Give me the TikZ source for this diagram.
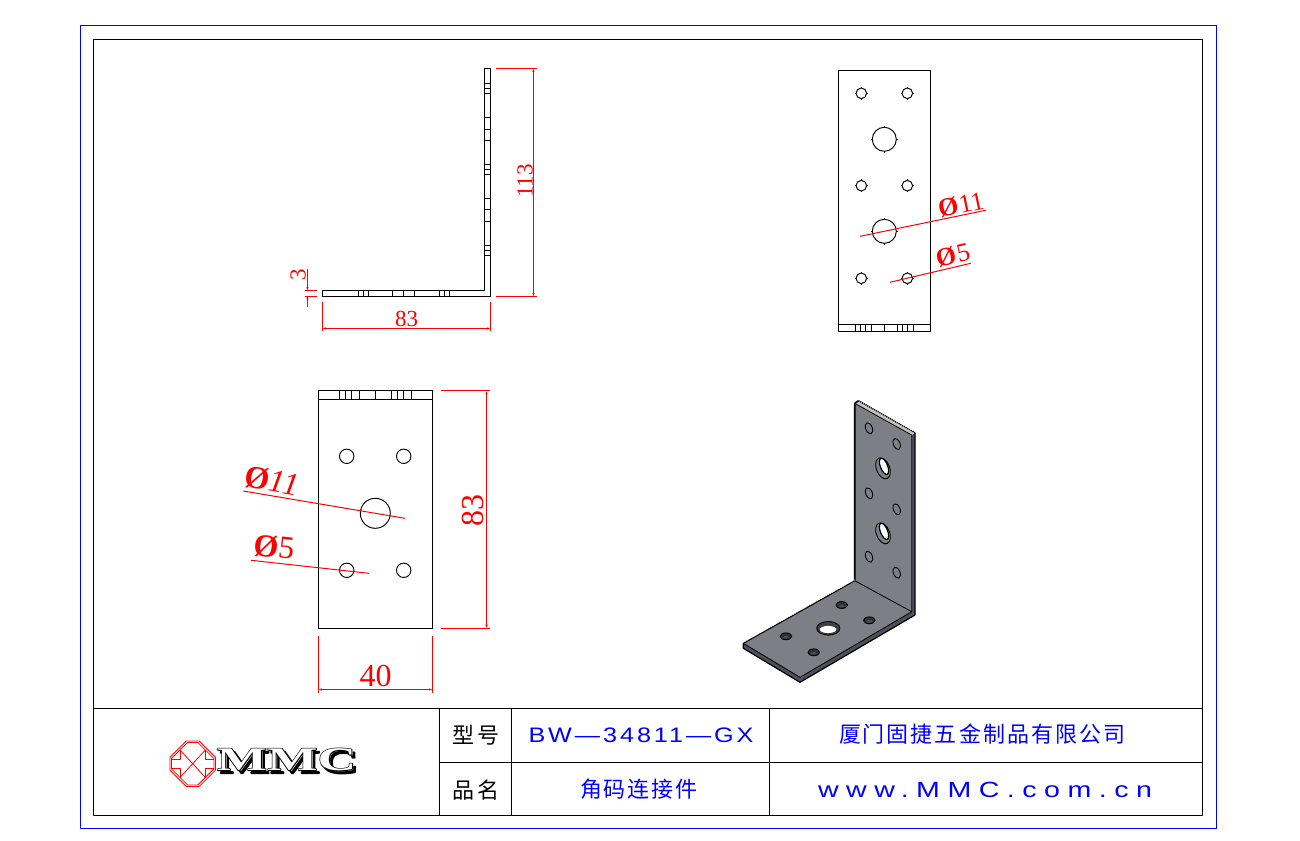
\documentclass[tikz,border=0pt]{standalone}
\usepackage{fontspec}
\setmainfont{Liberation Serif}
\setsansfont{Liberation Sans}
\newfontfamily\cjk{Noto Sans CJK SC}
\newfontfamily\logofont[FakeStretch=1.62]{Liberation Serif Bold}
\newfontfamily\logobold[FakeStretch=1.62,FakeBold=5]{Liberation Serif Bold}
\newfontfamily\titlefont[FakeStretch=1.2,LetterSpace=14]{Liberation Sans}
\newfontfamily\webfont[FakeStretch=1.3,LetterSpace=34]{Liberation Sans}
\usetikzlibrary{calc,arrows.meta}
\definecolor{platefill}{RGB}{126,126,134}
\definecolor{sidefill}{RGB}{78,78,92}
\newcommand{\fsz}[1]{\fontsize{#1}{#1}\selectfont}
\begin{document}
\begin{tikzpicture}[x=1pt,y=-1pt,line join=round,line cap=butt,
  part/.style={black,line width=1.1pt},
  tick/.style={black,line width=1pt},
  dimline/.style={red,line width=1pt},
  dimarrow/.style={dimline,{Stealth[length=3pt,width=2.4pt]}-{Stealth[length=3pt,width=2.4pt]}},
  dimtext/.style={red,inner sep=0pt},
  grid/.style={black,line width=1pt},
  hole/.style={black,line width=0.95pt},
  skewhole/.style={black,line width=0.9pt,fill=platefill},
  logoline/.style={red,line width=0.8pt}]
\useasboundingbox (0,0) rectangle (1300,840);
\draw[blue,line width=1pt] (80.5,25.5) rectangle (1216.5,828.5);
\draw[grid] (93.5,39.5) rectangle (1202.5,815.5);
\draw[grid] (93.5,708.5)--(1202.5,708.5) (439.5,762.5)--(1202.5,762.5);
\draw[grid] (439.5,708.5)--(439.5,815.5) (511.5,708.5)--(511.5,815.5) (769.5,708.5)--(769.5,815.5);
\coordinate (S1) at (322.5,290.5);
\coordinate (S2) at (484.5,290.5);
\coordinate (S3) at (484.5,68.5);
\coordinate (S4) at (490.5,68.5);
\coordinate (S5) at (490.5,296.5);
\coordinate (S6) at (322.5,296.5);
\draw[part] (S1)--(S2)--(S3)--(S4)--(S5)--(S6)--cycle;
\foreach \y in {83.5,88.5,93.5,117.5,129.5,140.5,164.5,169.5,174.5,198.5,209.5,221.5,245.5,250.5,255.5}{\draw[tick] (484.5,\y)--(490.5,\y);}
\foreach \x in {358.5,363.5,368.5,392.5,403.5,414.5,439.5,444.5,449.5}{\draw[tick] (\x,290.5)--(\x,296.5);}
\draw[dimline] (496,68.5)--(537,68.5) (496,296.5)--(537,296.5);
\draw[dimarrow] (533.5,69)--(533.5,296);
\node[dimtext,rotate=90] (dim113) at (525,181) {\fsz{23}113};
\draw[dimline] (305,290.5)--(316.7,290.5) (305,296.5)--(316.7,296.5);
\draw[dimline,-{Stealth[length=3pt,width=2.4pt]}] (307.5,269)--(307.5,290);
\draw[dimline,-{Stealth[length=3pt,width=2.4pt]}] (307.5,306.7)--(307.5,296.6);
\node[dimtext,rotate=90] (dim3) at (298,275) {\fsz{23}3};
\draw[dimline] (322.5,302)--(322.5,330.7) (490.5,302)--(490.5,330.7);
\draw[dimarrow] (323,328.5)--(490,328.5);
\node[dimtext] (dim83a) at (406.7,319) {\fsz{23}83};
\draw[part] (838.5,70.5) rectangle (930.5,331.5) (838.5,324.5)--(930.5,324.5);
\foreach \x in {855.5,860.5,865.5,871.5,884.5,897.5,902.5,907.5,913.5}{\draw[tick] (\x,324.5)--(\x,331.5);}
\foreach \x/\y in {861.3/93.3,907.3/93.3,861.3/185.7,907.3/185.7,861.3/278.3,907.3/278.3}{
  \draw[hole] (\x,\y) circle (5.3pt);
  \foreach \a in {0,90,180,270}{\draw[hole] (\x,\y)++(\a:5.3pt)--++(\a:1.2pt);}
}
\foreach \x/\y in {884.3/139.3,884.3/231.3}{
  \draw[hole] (\x,\y) circle (12pt);
  \foreach \a in {0,90,180,270}{\draw[hole] (\x,\y)++(\a:12pt)--++(\a:1.2pt);}
}
\draw[dimline] (860,236.3)--(985.7,210.3) (890,282.3)--(970.7,263.3);
\node[dimtext,rotate=11.7] (dia11a) at (961,205) {\fsz{26}{\bfseries Ø}\kern1pt 11};
\node[dimtext,rotate=13] (dia5a) at (953,255.5) {\fsz{26}{\bfseries Ø}\kern1pt 5};
\draw[part] (318.5,390.5) rectangle (432.5,628.5) (318.5,399.5)--(432.5,399.5);
\foreach \x in {339.5,345.5,351.5,359.5,375.5,391.5,397.5,403.5,411.5}{\draw[tick] (\x,390.5)--(\x,399.5);}
\foreach \x/\y in {346.7/456.3,403.7/456.3,346.7/570.3,403.7/570.3}{\draw[hole] (\x,\y) circle (7.2pt);}
\draw[hole] (375.3,513.3) circle (15pt);
\draw[dimline] (243.3,491)--(405,518.3) (251,560.3)--(369,573.3);
\node[dimtext,rotate=-9.6] (dia11b) at (272,481) {\fsz{32}{\bfseries Ø}{\itshape 11}};
\node[dimtext,rotate=-6.3] (dia5b) at (274,547) {\fsz{32}{\bfseries Ø}5};
\draw[dimline] (441,390.5)--(490,390.5) (441,628.5)--(490,628.5);
\draw[dimarrow] (486.5,391.5)--(486.5,627.5);
\node[dimtext,rotate=90] (dim83b) at (473.5,510) {\fsz{32}83};
\draw[dimline] (318.5,636)--(318.5,692.7) (432.5,636)--(432.5,692.7);
\draw[dimarrow] (319,689.5)--(432,689.5);
\node[dimtext] (dim40) at (375.7,676.5) {\fsz{32}40};
\coordinate (A) at (854.7,403.3);
\coordinate (B) at (858.5,400.7);
\coordinate (C) at (915,432.7);
\coordinate (D) at (911.7,435);
\coordinate (E) at (911.7,611.7);
\coordinate (F) at (854.7,580.7);
\coordinate (G) at (743.3,643.3);
\coordinate (H) at (800,677.3);
\coordinate (I) at (800,682.3);
\coordinate (J) at (743.3,648.3);
\coordinate (K) at (915,615);
\fill[platefill] (A)--(D)--(E)--(F)--cycle;
\fill[platefill] (F)--(G)--(H)--(E)--cycle;
\fill[sidefill] (D)--(C)--(K)--(E)--cycle;
\fill[sidefill] (E)--(K)--(I)--(H)--cycle;
\fill[sidefill] (G)--(J)--(I)--(H)--cycle;
\fill[platefill!45!white] (A)--(B)--(C)--(D)--cycle;
\draw[black,line width=0.8pt] (A)--(D)--(E)--(F) (F)--(E)--(H)--(G);
\draw[black,line width=1.6pt] (A)--(F) (A)--(B);
\draw[black,line width=1.3pt,dash pattern=on 1.2pt off 0.8pt] (B)--(C);
\draw[black,line width=1.2pt] (C)--(K)--(I)--(J)--(G);
\draw[black,line width=1.2pt] (F)--(G);
\draw[white,line width=0.7pt,dash pattern=on 1pt off 1.5pt] ($(F)+(0,-1)$)--($(G)+(0,-1)$);
\foreach \x/\y in {869/428.3,896.7/444,869/493.3,896.7/509.3,869/556.7,896.7/572.7}{
  \draw[skewhole] (\x,\y) ellipse [x radius=3.3pt,y radius=5.8pt,rotate=22];
}
\foreach \x/\y in {883/468.3,883/533.3}{
  \draw[skewhole] (\x,\y) ellipse [x radius=6.6pt,y radius=11pt,rotate=22];
  \draw[black,line width=1.2pt,fill=white] (\x+1,\y-2) ellipse [x radius=3.6pt,y radius=8.6pt,rotate=22];
}
\foreach \x/\y in {841.7/605,869.3/620.3,786/636.3,813.7/652.3}{
  \draw[black,line width=0.9pt,fill=black!80] (\x,\y) ellipse [x radius=5.8pt,y radius=3.4pt];
  \fill[platefill!60!black] (\x,\y+1) ellipse [x radius=3pt,y radius=1.3pt];
}
\draw[black,line width=0.9pt,fill=platefill!50!black] (828.3,628.3) ellipse [x radius=11.6pt,y radius=6.8pt];
\fill[white] (828,629.5) ellipse [x radius=8.2pt,y radius=3.6pt];
\coordinate (L) at (192.7,763.7);
\foreach \r/\f in {22.8/6.4,21.2/5.2}{
  \draw[logoline] ($(L)+(-\f,-\r)$)--($(L)+(\f,-\r)$)--($(L)+(\r,-\f)$)--($(L)+(\r,\f)$)--($(L)+(\f,\r)$)--($(L)+(-\f,\r)$)--($(L)+(-\r,\f)$)--($(L)+(-\r,-\f)$)--cycle;
}
\draw[logoline] ($(L)+(-12.5,-13.5)$)--($(L)+(12.5,13.5)$) ($(L)+(-12.5,13.5)$)--($(L)+(12.5,-13.5)$);
\foreach \sx in {-1,1}{
  \draw[logoline] ($(L)+(\sx*12.5,-14)$)--($(L)+(\sx*12.5,-4.5)$)--($(L)+(\sx*21,-4.5)$);
  \draw[logoline] ($(L)+(\sx*12.5,14)$)--($(L)+(\sx*12.5,4.5)$)--($(L)+(\sx*21,4.5)$);
}
\node[inner sep=0pt,black] (logoshadow) at (289.5,762.5) {\logobold\fsz{33}MMC};
\node[inner sep=0pt,white] (logoshadowb) at (287.8,760.8) {\logofont\fsz{33}MMC};
\node[inner sep=0pt,black] (logoedge) at (286.5,759.5) {\logobold\fsz{33}MMC};
\node[inner sep=0pt,white] (logotext) at (286.5,759.5) {\logofont\fsz{33}MMC};
\node[inner sep=0pt] (modelkey) at (476,735) {\cjk\fsz{22}型\kern4pt 号};
\node[inner sep=0pt] (namekey) at (476,790) {\cjk\fsz{22}品\kern4pt 名};
\node[inner sep=0pt,blue] (modelval) at (641,735) {\titlefont\fsz{21}BW—34811—GX};
\node[inner sep=0pt,blue] (nameval) at (639,789.5) {\cjk\fsz{22}角\kern2pt 码\kern2pt 连\kern2pt 接\kern2pt 件};
\node[inner sep=0pt,blue] (company) at (982,734.5) {\cjk\fsz{22}厦\kern2pt 门\kern2pt 固\kern2pt 捷\kern2pt 五\kern2pt 金\kern2pt 制\kern2pt 品\kern2pt 有\kern2pt 限\kern2pt 公\kern2pt 司};
\node[inner sep=0pt,blue] (website) at (985,790) {\webfont\fsz{22}www.MMC.com.cn};
\end{tikzpicture}
\end{document}
